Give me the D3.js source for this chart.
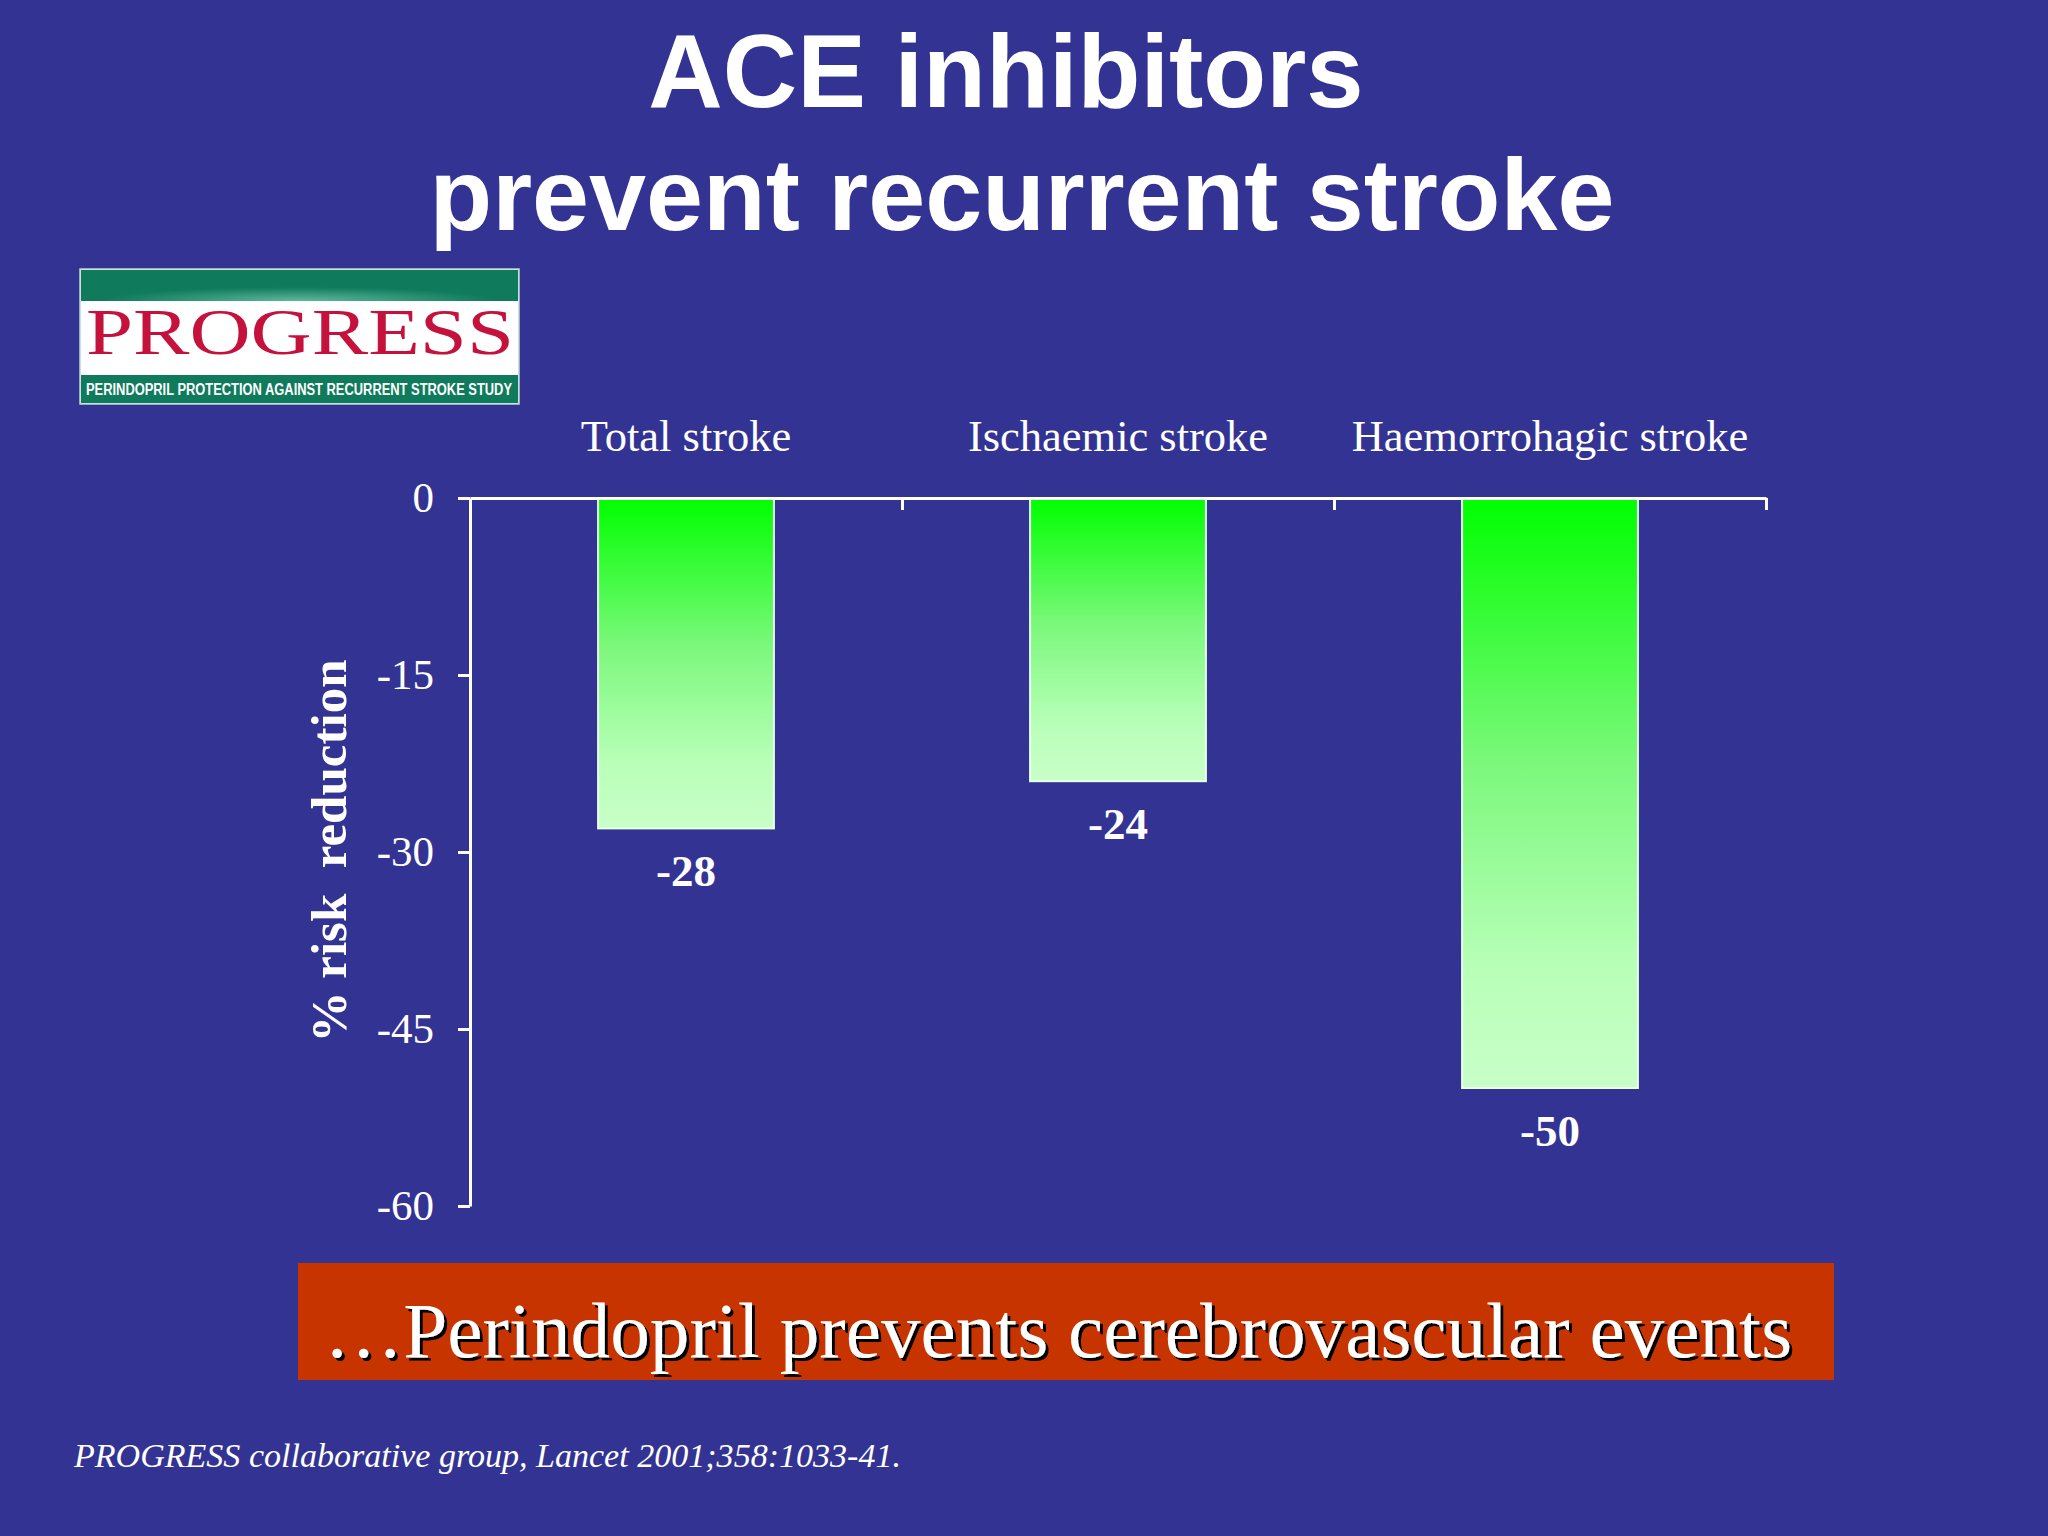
<!DOCTYPE html>
<html>
<head>
<meta charset="utf-8">
<script src="https://cdnjs.cloudflare.com/ajax/libs/d3/7.8.5/d3.min.js"></script>
<style>
  html, body { margin: 0; padding: 0; background: #333394; }
  svg { display: block; }
</style>
</head>
<body>
<script>
// ---- data ----
const categories = ["Total stroke", "Ischaemic stroke", "Haemorrohagic stroke"];
const values = [-28, -24, -50];
const valueLabels = ["-28", "-24", "-50"];
const yTicks = [0, -15, -30, -45, -60];
const titleLines = ["ACE inhibitors", "prevent recurrent stroke"];
const yAxisLabel = "% risk  reduction";
const bannerText = "\u2026Perindopril prevents cerebrovascular events";
const footnote = "PROGRESS collaborative group, Lancet 2001;358:1033-41.";
const logoTitle = "PROGRESS";
const logoSubtitle = "PERINDOPRIL PROTECTION AGAINST RECURRENT STROKE STUDY";

const W = 2048, H = 1536;
const serif = "'Liberation Serif', 'Times New Roman', Times, serif";
const sans = "'Liberation Sans', Arial, Helvetica, sans-serif";

const svg = d3.select("body").append("svg").attr("width", W).attr("height", H);
const defs = svg.append("defs");

// background
svg.append("rect").attr("width", W).attr("height", H).attr("fill", "#333394");

// bar gradient
const grad = defs.append("linearGradient").attr("id", "barGrad")
  .attr("x1", 0).attr("y1", 0).attr("x2", 0).attr("y2", 1);
grad.append("stop").attr("offset", "0%").attr("stop-color", "#00ff00");
grad.append("stop").attr("offset", "45%").attr("stop-color", "#7cf87c");
grad.append("stop").attr("offset", "80%").attr("stop-color", "#b8ffb8");
grad.append("stop").attr("offset", "100%").attr("stop-color", "#c8ffc8");

// banner text shadow
const filt = defs.append("filter").attr("id", "shadow").attr("x", "-5%").attr("y", "-20%").attr("width", "110%").attr("height", "140%");
filt.append("feDropShadow").attr("dx", 3).attr("dy", 3).attr("stdDeviation", 0.6)
  .attr("flood-color", "#000").attr("flood-opacity", 1);

// logo glow
const glow = defs.append("radialGradient").attr("id", "glow").attr("cx", "50%").attr("cy", "100%").attr("r", "45%");
glow.append("stop").attr("offset", "0%").attr("stop-color", "#5fb89a");
glow.append("stop").attr("offset", "100%").attr("stop-color", "#0f7a5c");

// ---- title ----
svg.append("text").attr("x", 1006).attr("y", 107)
  .attr("text-anchor", "middle").attr("font-family", sans).attr("font-weight", "bold")
  .attr("font-size", 103).attr("fill", "#fff").text(titleLines[0]);
svg.append("text").attr("x", 1022).attr("y", 230)
  .attr("text-anchor", "middle").attr("font-family", sans).attr("font-weight", "bold")
  .attr("font-size", 102.5).attr("fill", "#fff").text(titleLines[1]);

// ---- logo ----
const logo = svg.append("g");
logo.append("rect").attr("x", 80).attr("y", 269).attr("width", 439).attr("height", 135)
  .attr("fill", "#ffffff").attr("stroke", "#b8d8cc").attr("stroke-width", 1.5);
logo.append("rect").attr("x", 81).attr("y", 270).attr("width", 437).attr("height", 31).attr("fill", "url(#glow)");
logo.append("rect").attr("x", 81).attr("y", 375).attr("width", 437).attr("height", 28).attr("fill", "#0f7a5c");
logo.append("text").attr("x", 86).attr("y", 354)
  .attr("font-family", serif).attr("font-size", 66).attr("fill", "#c4123c")
  .attr("textLength", 428).attr("lengthAdjust", "spacingAndGlyphs").text(logoTitle);
logo.append("text").attr("x", 86).attr("y", 395)
  .attr("font-family", sans).attr("font-weight", "bold").attr("font-size", 16).attr("fill", "#fff")
  .attr("textLength", 426).attr("lengthAdjust", "spacingAndGlyphs").text(logoSubtitle);

// ---- chart ----
const x = d3.scaleBand().domain(categories).range([470, 1766]).paddingInner(0.593).paddingOuter(0.2965);
const y = d3.scaleLinear().domain([0, -60]).range([498, 1206]);
const xb = d3.scaleLinear().domain([0, categories.length]).range([470, 1766]);

// bars
svg.append("g").selectAll("rect").data(values).join("rect")
  .attr("x", (d, i) => x(categories[i]))
  .attr("y", y(0))
  .attr("width", x.bandwidth())
  .attr("height", d => y(d) - y(0))
  .attr("fill", "url(#barGrad)")
  .attr("stroke", "#e8ffe8").attr("stroke-width", 2);

// value labels
svg.append("g").selectAll("text").data(values).join("text")
  .attr("x", (d, i) => x(categories[i]) + x.bandwidth() / 2)
  .attr("y", d => y(d) + 58)
  .attr("text-anchor", "middle").attr("font-family", serif).attr("font-weight", "bold")
  .attr("font-size", 45).attr("fill", "#fff")
  .text((d, i) => valueLabels[i]);

// category labels
svg.append("g").selectAll("text").data(categories).join("text")
  .attr("x", d => x(d) + x.bandwidth() / 2)
  .attr("y", 451)
  .attr("text-anchor", "middle").attr("font-family", serif)
  .attr("font-size", 44.5).attr("fill", "#fff")
  .text(d => d);

// top axis (zero line)
const topAxis = svg.append("g").attr("transform", `translate(0,${y(0)})`)
  .call(d3.axisBottom(xb).tickValues(d3.range(1, categories.length + 1)).tickFormat("").tickSize(12).tickSizeOuter(0));
topAxis.selectAll("path, line").attr("stroke", "#fff").attr("stroke-width", 3);

// left axis
const leftAxis = svg.append("g").attr("transform", "translate(470,0)")
  .call(d3.axisLeft(y).tickValues(yTicks).tickFormat(d3.format("d")).tickSize(12).tickSizeOuter(0).tickPadding(24));
leftAxis.selectAll("path, line").attr("stroke", "#fff").attr("stroke-width", 3);
leftAxis.selectAll("text").attr("font-family", serif).attr("font-size", 43).attr("fill", "#fff")
  .text(d => d === 0 ? "0" : String(d).replace("\u2212", "-"));

// y axis label
svg.append("text")
  .attr("transform", "translate(346,851) rotate(-90)")
  .attr("text-anchor", "middle").attr("font-family", serif).attr("font-weight", "bold")
  .attr("font-size", 51).attr("fill", "#fff").style("white-space", "pre")
  .text(yAxisLabel);

// ---- banner ----
svg.append("rect").attr("x", 298).attr("y", 1263).attr("width", 1536).attr("height", 117).attr("fill", "#c83400");
svg.append("text").attr("x", 324).attr("y", 1357)
  .attr("font-family", serif).attr("font-size", 79).attr("fill", "#fff")
  .attr("textLength", 1468).attr("lengthAdjust", "spacingAndGlyphs")
  .attr("filter", "url(#shadow)")
  .text(bannerText);

// ---- footnote ----
svg.append("text").attr("x", 74).attr("y", 1467)
  .attr("font-family", serif).attr("font-style", "italic").attr("font-size", 33).attr("fill", "#fff")
  .attr("textLength", 827).attr("lengthAdjust", "spacingAndGlyphs")
  .text(footnote);
</script>
</body>
</html>
